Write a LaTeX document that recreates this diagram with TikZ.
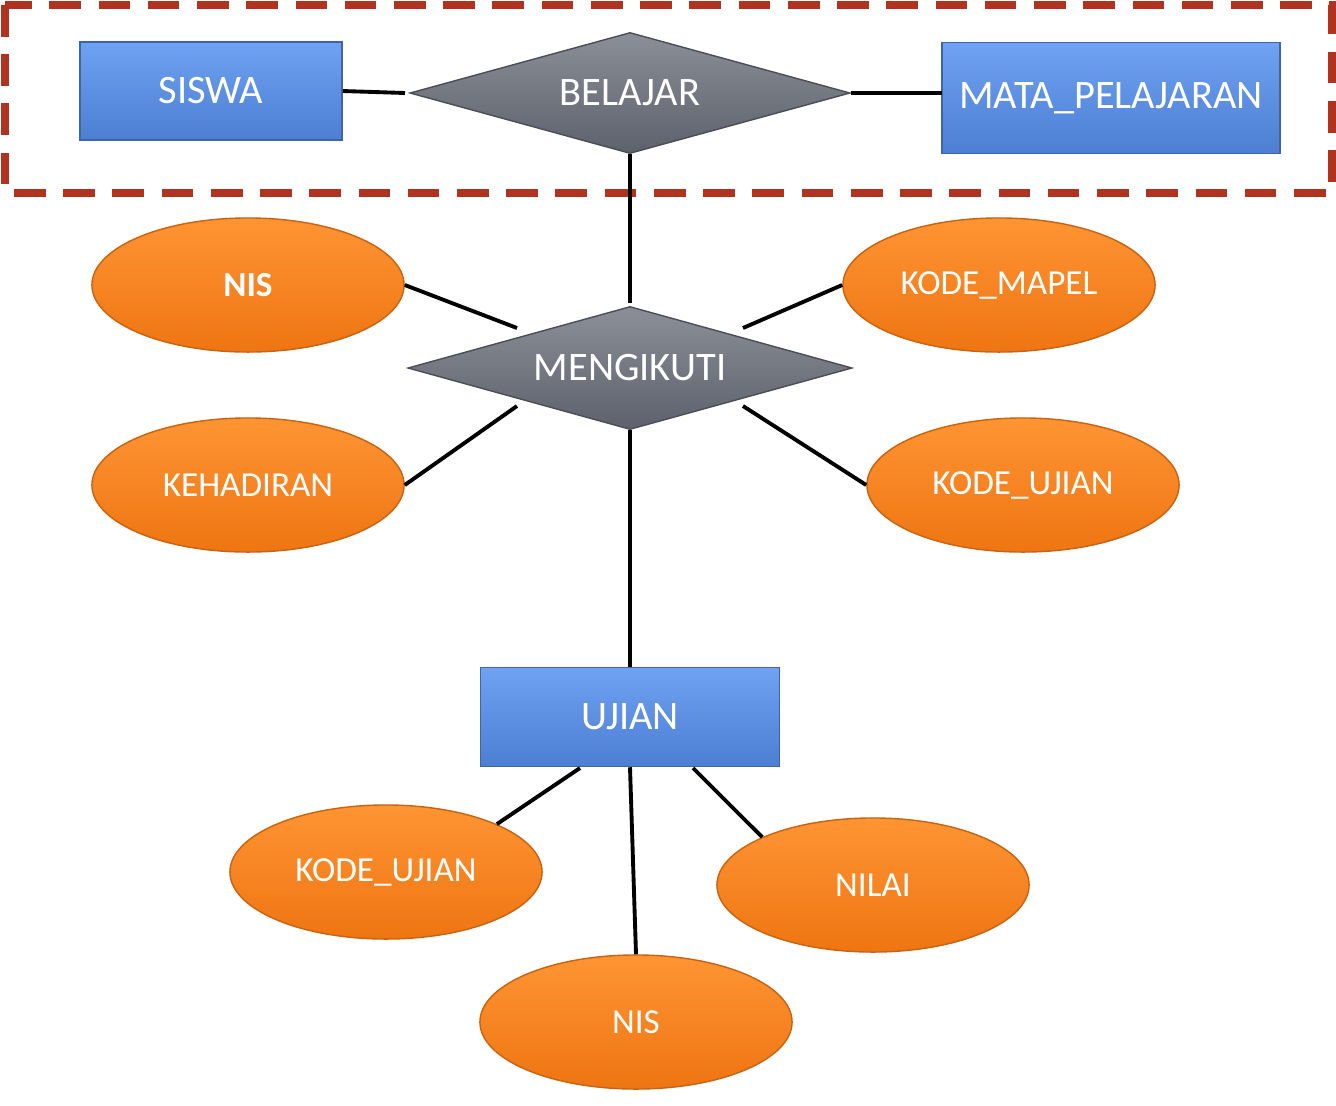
\documentclass[tikz,border=0pt]{standalone}
\usepackage{fontspec}
\setmainfont{Carlito}
\usetikzlibrary{shapes.geometric,shadows}
\definecolor{boxtop}{HTML}{6FA2F2}
\definecolor{boxbot}{HTML}{4C7ED2}
\definecolor{ovtop}{HTML}{FF9433}
\definecolor{ovbot}{HTML}{EE7512}
\definecolor{dmtop}{HTML}{8A8F98}
\definecolor{dmbot}{HTML}{5C616B}
\definecolor{frame}{HTML}{B0331F}
\tikzset{
  ent/.style={rectangle, draw=boxbot!80!black, top color=boxtop, bottom color=boxbot,
    drop shadow={opacity=0.35,shadow xshift=0.04,shadow yshift=-0.04},
    text=white, font=\fontsize{11.5}{13}\selectfont, inner sep=0pt},
  rel/.style={diamond, draw=dmbot!80!black, top color=dmtop, bottom color=dmbot,
    drop shadow={opacity=0.35,shadow xshift=0.04,shadow yshift=-0.04},
    text=white, font=\fontsize{11.5}{13}\selectfont, inner sep=0pt, aspect=3.6},
  att/.style={ellipse, draw=ovbot!85!black, top color=ovtop, bottom color=ovbot,
    drop shadow={opacity=0.35,shadow xshift=0.04,shadow yshift=-0.04},
    text=white, font=\fontsize{10}{12}\selectfont, minimum width=3.12cm, minimum height=1.34cm},
  conn/.style={line width=1.1pt}
}
\begin{document}
\begin{tikzpicture}[x=0.01cm,y=-0.01cm]
\useasboundingbox (0,0) rectangle (1336,1105);
\draw[frame, line width=2.2pt, dash pattern=on 9pt off 5pt] (5,5) rectangle (1332,193);

\node[ent, minimum width=2.62cm, minimum height=0.98cm] (siswa) at (211,91) {SISWA};
\node[rel, minimum width=4.4cm, minimum height=1.21cm] (belajar) at (630,93) {BELAJAR};
\node[ent, minimum width=3.38cm, minimum height=1.11cm] (mapel) at (1111,98) {MATA\_PELAJARAN};
\node[rel, minimum width=4.44cm, minimum height=1.23cm] (ikut) at (630,368) {MENGIKUTI};
\node[ent, minimum width=2.99cm, minimum height=0.99cm] (ujian) at (630,717) {UJIAN};

\node[att, font=\fontsize{10}{12}\selectfont\bfseries] (nis) at (248,285) {NIS};
\node[att] (kmapel) at (999,285) {KODE\_MAPEL};
\node[att] (hadir) at (248,485) {KEHADIRAN};
\node[att] (kujian) at (1023,485) {KODE\_UJIAN};
\node[att] (kujian2) at (386,872) {KODE\_UJIAN};
\node[att] (nilai) at (873,885) {NILAI};
\node[att] (nis2) at (636,1022) {NIS};

\coordinate (b1) at (405,93);
\coordinate (b2) at (942,93);
\coordinate (m1) at (630,303);
\coordinate (mnw) at (517,328);
\coordinate (mne) at (743,328);
\coordinate (msw) at (517,406);
\coordinate (mse) at (743,406);
\coordinate (u1) at (580,768);
\coordinate (u2) at (693,768);

\draw[conn] (siswa.east) -- (b1);
\draw[conn] (belajar.east) -- (b2);
\draw[conn] (belajar.south) -- (m1);
\draw[conn] (nis.east) -- (mnw);
\draw[conn] (kmapel.west) -- (mne);
\draw[conn] (hadir.east) -- (msw);
\draw[conn] (kujian.west) -- (mse);
\draw[conn] (ikut.south) -- (ujian.north);
\draw[conn] (u1) -- (kujian2.north east);
\draw[conn] (ujian.south) -- (nis2.north);
\draw[conn] (u2) -- (nilai.north west);
\end{tikzpicture}
\end{document}
